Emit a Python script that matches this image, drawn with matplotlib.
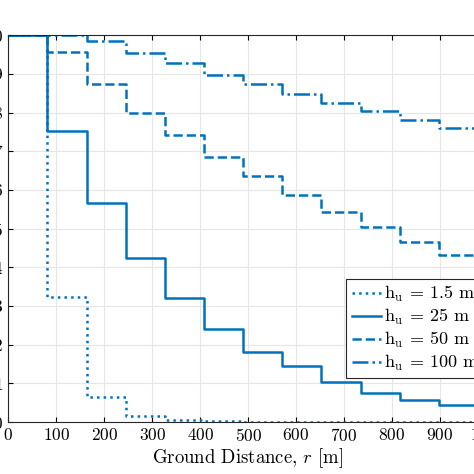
import matplotlib
matplotlib.use("Agg")
import matplotlib.pyplot as plt
import numpy as np

plt.rcParams['font.family'] = 'cmr10'
plt.rcParams['mathtext.fontset'] = 'cm'
plt.rcParams['axes.formatter.use_mathtext'] = True

# step edges (m) and probability per interval
edges = [0, 81.6, 163.2, 244.8, 326.4, 408, 489.6, 571.2, 652.8, 734.4, 816, 897.6, 1000]
p_15 = [1, 0.324, 0.065, 0.015, 0.005, 0.002, 0.001, 0.001, 0.001, 0.001, 0.001, 0.001]
p_25 = [1, 0.753, 0.566, 0.424, 0.32, 0.24, 0.18, 0.145, 0.103, 0.075, 0.057, 0.044]
p_50 = [1, 0.957, 0.875, 0.80, 0.742, 0.686, 0.636, 0.588, 0.543, 0.503, 0.466, 0.432]
p_100 = [1, 1, 0.985, 0.955, 0.927, 0.898, 0.873, 0.849, 0.826, 0.804, 0.781, 0.76]

col = '#0072BD'
fig = plt.figure(figsize=(4.74, 4.74), dpi=100)
ax = fig.add_axes([0.0175, 0.1097, 1.012, 0.816])

def stairs(vals, ls, label):
    y = list(vals) + [vals[-1]]
    ax.step(edges, y, where='post', color=col, lw=1.8, ls=ls, label=label)

stairs(p_15, ':', r'$\mathrm{h_u}$ = 1.5 m')
stairs(p_25, '-', r'$\mathrm{h_u}$ = 25 m')
stairs(p_50, '--', r'$\mathrm{h_u}$ = 50 m')
stairs(p_100, '-.', r'$\mathrm{h_u}$ = 100 m')

ax.set_xlim(0, 1000)
ax.set_ylim(0, 1)
ax.set_xticks(np.arange(0, 1001, 100))
ax.set_yticks(np.arange(0, 1.01, 0.1))
ax.grid(True, color='#e6e6e6', lw=0.8)
ax.tick_params(direction='in', labelsize=12.5, top=True, right=True)
for s in ax.spines.values():
    s.set_color('#262626')
ax.set_xlabel(r'Ground Distance, $r$ [m]', fontsize=13.5, labelpad=2)

leg = ax.legend(loc='upper left', bbox_to_anchor=(0.705, 0.37), fontsize=13,
                fancybox=False, edgecolor='#262626', framealpha=1,
                handlelength=1.6, handletextpad=0.2, borderpad=0.3,
                labelspacing=0.15, borderaxespad=0)
leg.get_frame().set_linewidth(0.8)

fig.savefig('out.png', dpi=100)
